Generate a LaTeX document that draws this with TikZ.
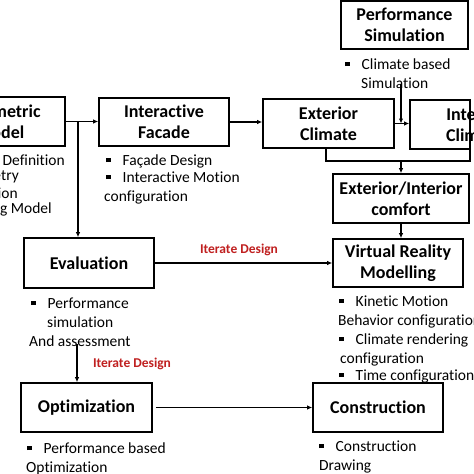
\documentclass[tikz,border=0pt]{standalone}
\usepackage{fontspec}
\setmainfont{Carlito}[Ligatures=NoCommon]
\usetikzlibrary{arrows.meta}
\definecolor{iterred}{RGB}{192,32,32}
\newcommand\sqb{\rule[3pt]{4.5pt}{4.5pt}\hspace{12pt}}
\begin{document}
\begin{tikzpicture}[x=1pt,y=-1pt,
  box/.style={draw, line width=1.6pt, inner sep=0pt, align=center, font=\fontsize{18}{21}\selectfont\bfseries},
  boxtext/.style={inner sep=0pt, align=center, font=\fontsize{18}{21}\selectfont\bfseries},
  txt/.style={anchor=base west, inner sep=0pt, font=\fontsize{15.5}{19}\selectfont},
  txte/.style={txt, anchor=base east},
  conn/.style={line width=1.2pt},
  arr/.style={conn, -{Latex[length=5pt,width=4.5pt]}},
  iter/.style={inner sep=0pt, text=iterred, font=\fontsize{13.5}{16}\selectfont\bfseries}]
\useasboundingbox (0,0) rectangle (474,474);
\clip (0,0) rectangle (474,474);
\fill[white] (0,0) rectangle (474,474);
% boxes
\node[box, minimum width=130pt, minimum height=49pt] (geo) at (0,121.5) {Parametric\\Model};
\node[box, minimum width=130pt, minimum height=48pt] (face) at (164,122) {Interactive\\Facade};
\node[box, minimum width=127pt, minimum height=48pt] (perf) at (404.5,25) {Performance\\Simulation};
\node[box, minimum width=131pt, minimum height=49pt] (ext) at (328.5,123.5) {Exterior\\Climate};
\node[box, minimum width=60pt, minimum height=49pt] (int) at (440,124.5) {};
\node[boxtext] (intt) at (474.5,124.5) {Interior\\Climate};
\node[box, minimum width=136pt, minimum height=49pt] (comf) at (401,198.5) {Exterior/Interior\\comfort};
\node[box, minimum width=130pt, minimum height=48pt] (vr) at (398,263) {Virtual Reality\\Modelling};
\node[box, minimum width=130pt, minimum height=50pt] (eval) at (89,263) {Evaluation};
\node[box, minimum width=131pt, minimum height=49pt] (opt) at (86.5,407.5) {Optimization};
\node[box, minimum width=130pt, minimum height=49pt] (cons) at (378,407.5) {Construction};
% connectors
\coordinate (gb) at (78,122);
\draw[arr] (geo.east) -- (geo.east -| face.west);
\draw[arr] (gb) -- (gb |- eval.north);
\draw[arr] (face.east) -- (face.east -| ext.west);
\draw[arr] (ext.east) -- (ext.east -| int.west);
\coordinate (ps) at (401,84);
\draw[arr] (ps) -- (ps |- ext.east);
\coordinate (eb) at (326,161);
\coordinate (ib) at (470,161);
\coordinate (jb) at (401,161);
\draw[conn] (eb |- ext.south) -- (eb) -- (ib) -- (ib |- int.south);
\draw[arr] (jb) -- (jb |- comf.north);
\draw[arr] (comf.south) -- (comf.south |- vr.north);
\draw[arr] (eval.east) -- (eval.east -| vr.west);
\node[iter] (it1) at (239,250) {Iterate Design};
\coordinate (ea) at (77,344);
\draw[arr] (ea) -- (ea |- opt.north);
\node[iter] (it2) at (132,364) {Iterate Design};
\draw[arr] ([xshift=3pt]opt.east) -- (opt.east -| cons.west);
% geometric model bullets
\node[txte] (g1) at (65,165) {\sqb Parametric Definition};
\node[txte] (g2) at (19,180) {Geometry};
\node[txte] (g3) at (18,198) {\sqb Simulation};
\node[txte] (g4) at (52,213) {Building Model};
% facade bullets
\node[txt] (f1) at (106,165) {\sqb Façade Design};
\node[txt] (f2) at (106,182) {\sqb Interactive Motion};
\node[txt] (f3) at (104,201) {configuration};
% performance bullets
\node[txt] (p1) at (345,69) {\sqb Climate based};
\node[txt] (p2) at (361,88) {Simulation};
% evaluation bullets
\node[txt] (e1) at (31,308) {\sqb Performance};
\node[txt] (e2) at (47,327) {simulation};
\node[txt] (e3) at (29,346) {And assessment};
% VR bullets
\node[txt] (v1) at (339,306) {\sqb Kinetic Motion};
\node[txt] (v2) at (338,325) {Behavior configuration};
\node[txt] (v3) at (339,344) {\sqb Climate rendering};
\node[txt] (v4) at (340,363) {configuration};
\node[txt] (v5) at (339,380) {\sqb Time configuration};
% optimization bullets
\node[txt] (o1) at (27,453) {\sqb Performance based};
\node[txt] (o2) at (26,472) {Optimization};
% construction bullets
\node[txt] (c1) at (319,451) {\sqb Construction};
\node[txt] (c2) at (319,470) {Drawing};
\end{tikzpicture}
\end{document}
